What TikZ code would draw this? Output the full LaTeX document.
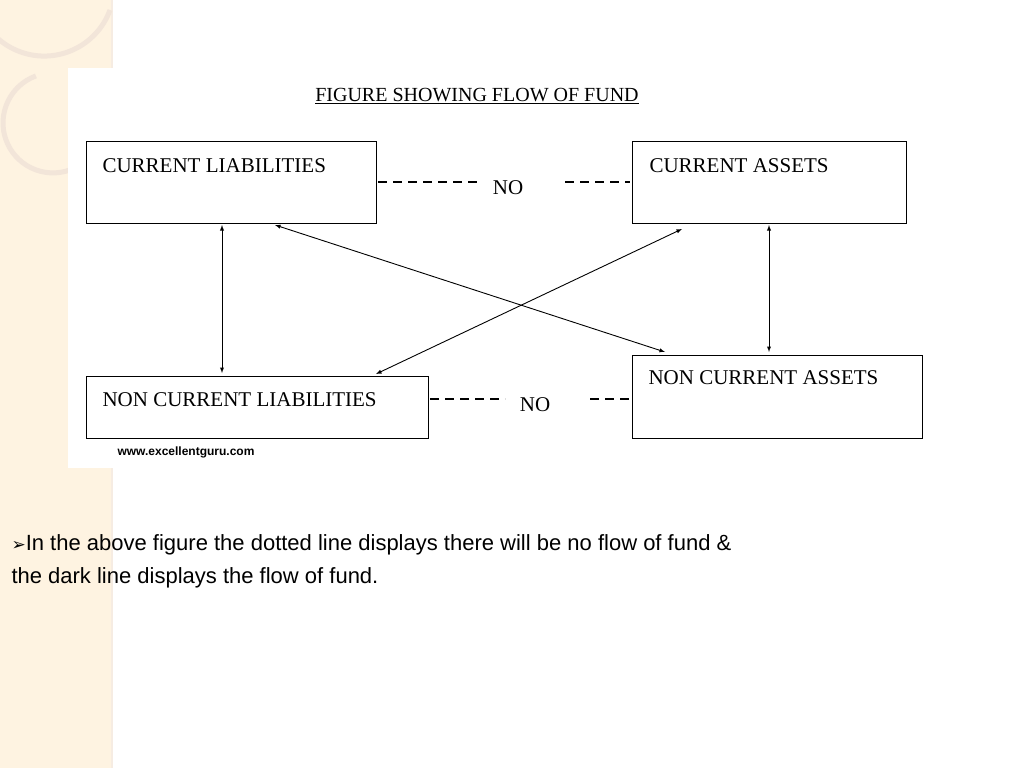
\documentclass[tikz,border=0pt]{standalone}
\usepackage{fontspec}
\setmainfont{Liberation Serif}
\newfontfamily\mysans{Liberation Sans}
\newfontfamily\mydejavu{DejaVu Sans}
\begin{document}
\begin{tikzpicture}[x=1pt,y=-1pt,
  box/.style={draw,line width=0.8pt,anchor=north west,inner sep=0pt},
  lbl/.style={anchor=north west,font=\fontsize{21}{21}\selectfont},
  flow/.style={line width=0.9pt,<->,>=latex},
  nof/.style={line width=1.6pt,dash pattern=on 9pt off 6pt}]
\useasboundingbox (0,0) rectangle (1024,768);
\fill[white] (0,0) rectangle (1024,768);
\fill[yellow!12!orange!10!white] (0,0) rectangle (112,768);
\draw[white!85!brown,line width=1.2pt] (112,0) -- (112,768);
\draw[white!80!brown,line width=5pt] (110,10) arc (20:260:70);
\draw[white!80!brown,line width=5pt] (100,140) arc (20:250:50);
\fill[white] (68,68) rectangle (940,468);
\node[font=\fontsize{20}{20}\selectfont] (t) at (477,96) {\underline{FIGURE SHOWING FLOW OF FUND}};
\node[box,minimum width=290pt,minimum height=82pt] (cl) at (86,141) {};
\node[box,minimum width=274pt,minimum height=82pt] (ca) at (632,141) {};
\node[box,minimum width=342pt,minimum height=62pt] (ncl) at (86,376) {};
\node[box,minimum width=290pt,minimum height=83pt] (nca) at (632,355) {};
\node[lbl] (tcl) at (99,155) {CURRENT LIABILITIES};
\node[lbl] (tca) at (646,155) {CURRENT ASSETS};
\node[lbl] (tncl) at (99,389) {NON CURRENT LIABILITIES};
\node[lbl] (tnca) at (645,367) {NON CURRENT ASSETS};
\node[font=\fontsize{21}{21}\selectfont] (no1) at (508,188) {NO};
\node[font=\fontsize{21}{21}\selectfont] (no2) at (535,405) {NO};
\coordinate (a1) at (378,182); \coordinate (a2) at (480,182);
\coordinate (a3) at (565,182); \coordinate (a4) at (630,182);
\coordinate (b1) at (430,399); \coordinate (b2) at (505,399);
\coordinate (b3) at (590,399); \coordinate (b4) at (630,399);
\draw[nof] (a1) -- (a2); \draw[nof] (a3) -- (a4);
\draw[nof] (b1) -- (b2); \draw[nof] (b3) -- (b4);
\coordinate (p1) at (222,225); \coordinate (p2) at (222,373);
\coordinate (q1) at (769,225); \coordinate (q2) at (769,352);
\coordinate (r1) at (275,225); \coordinate (r2) at (665,352);
\coordinate (s1) at (682,229); \coordinate (s2) at (376,374);
\draw[flow] (p1) -- (p2);
\draw[flow] (q1) -- (q2);
\draw[flow] (r1) -- (r2);
\draw[flow] (s1) -- (s2);
\node[anchor=west,font=\mysans\bfseries\fontsize{12}{12}\selectfont] (w) at (114,452) {www.excellentguru.com};
\node[anchor=west,font=\mysans\fontsize{22}{22}\selectfont] (l1) at (8,545) {{\mydejavu\fontsize{17}{17}\selectfont ➢}In the above figure the dotted line displays there will be no flow of fund \&};
\node[anchor=west,font=\mysans\fontsize{22}{22}\selectfont] (l2) at (8,578) {the dark line displays the flow of fund.};
\end{tikzpicture}
\end{document}
